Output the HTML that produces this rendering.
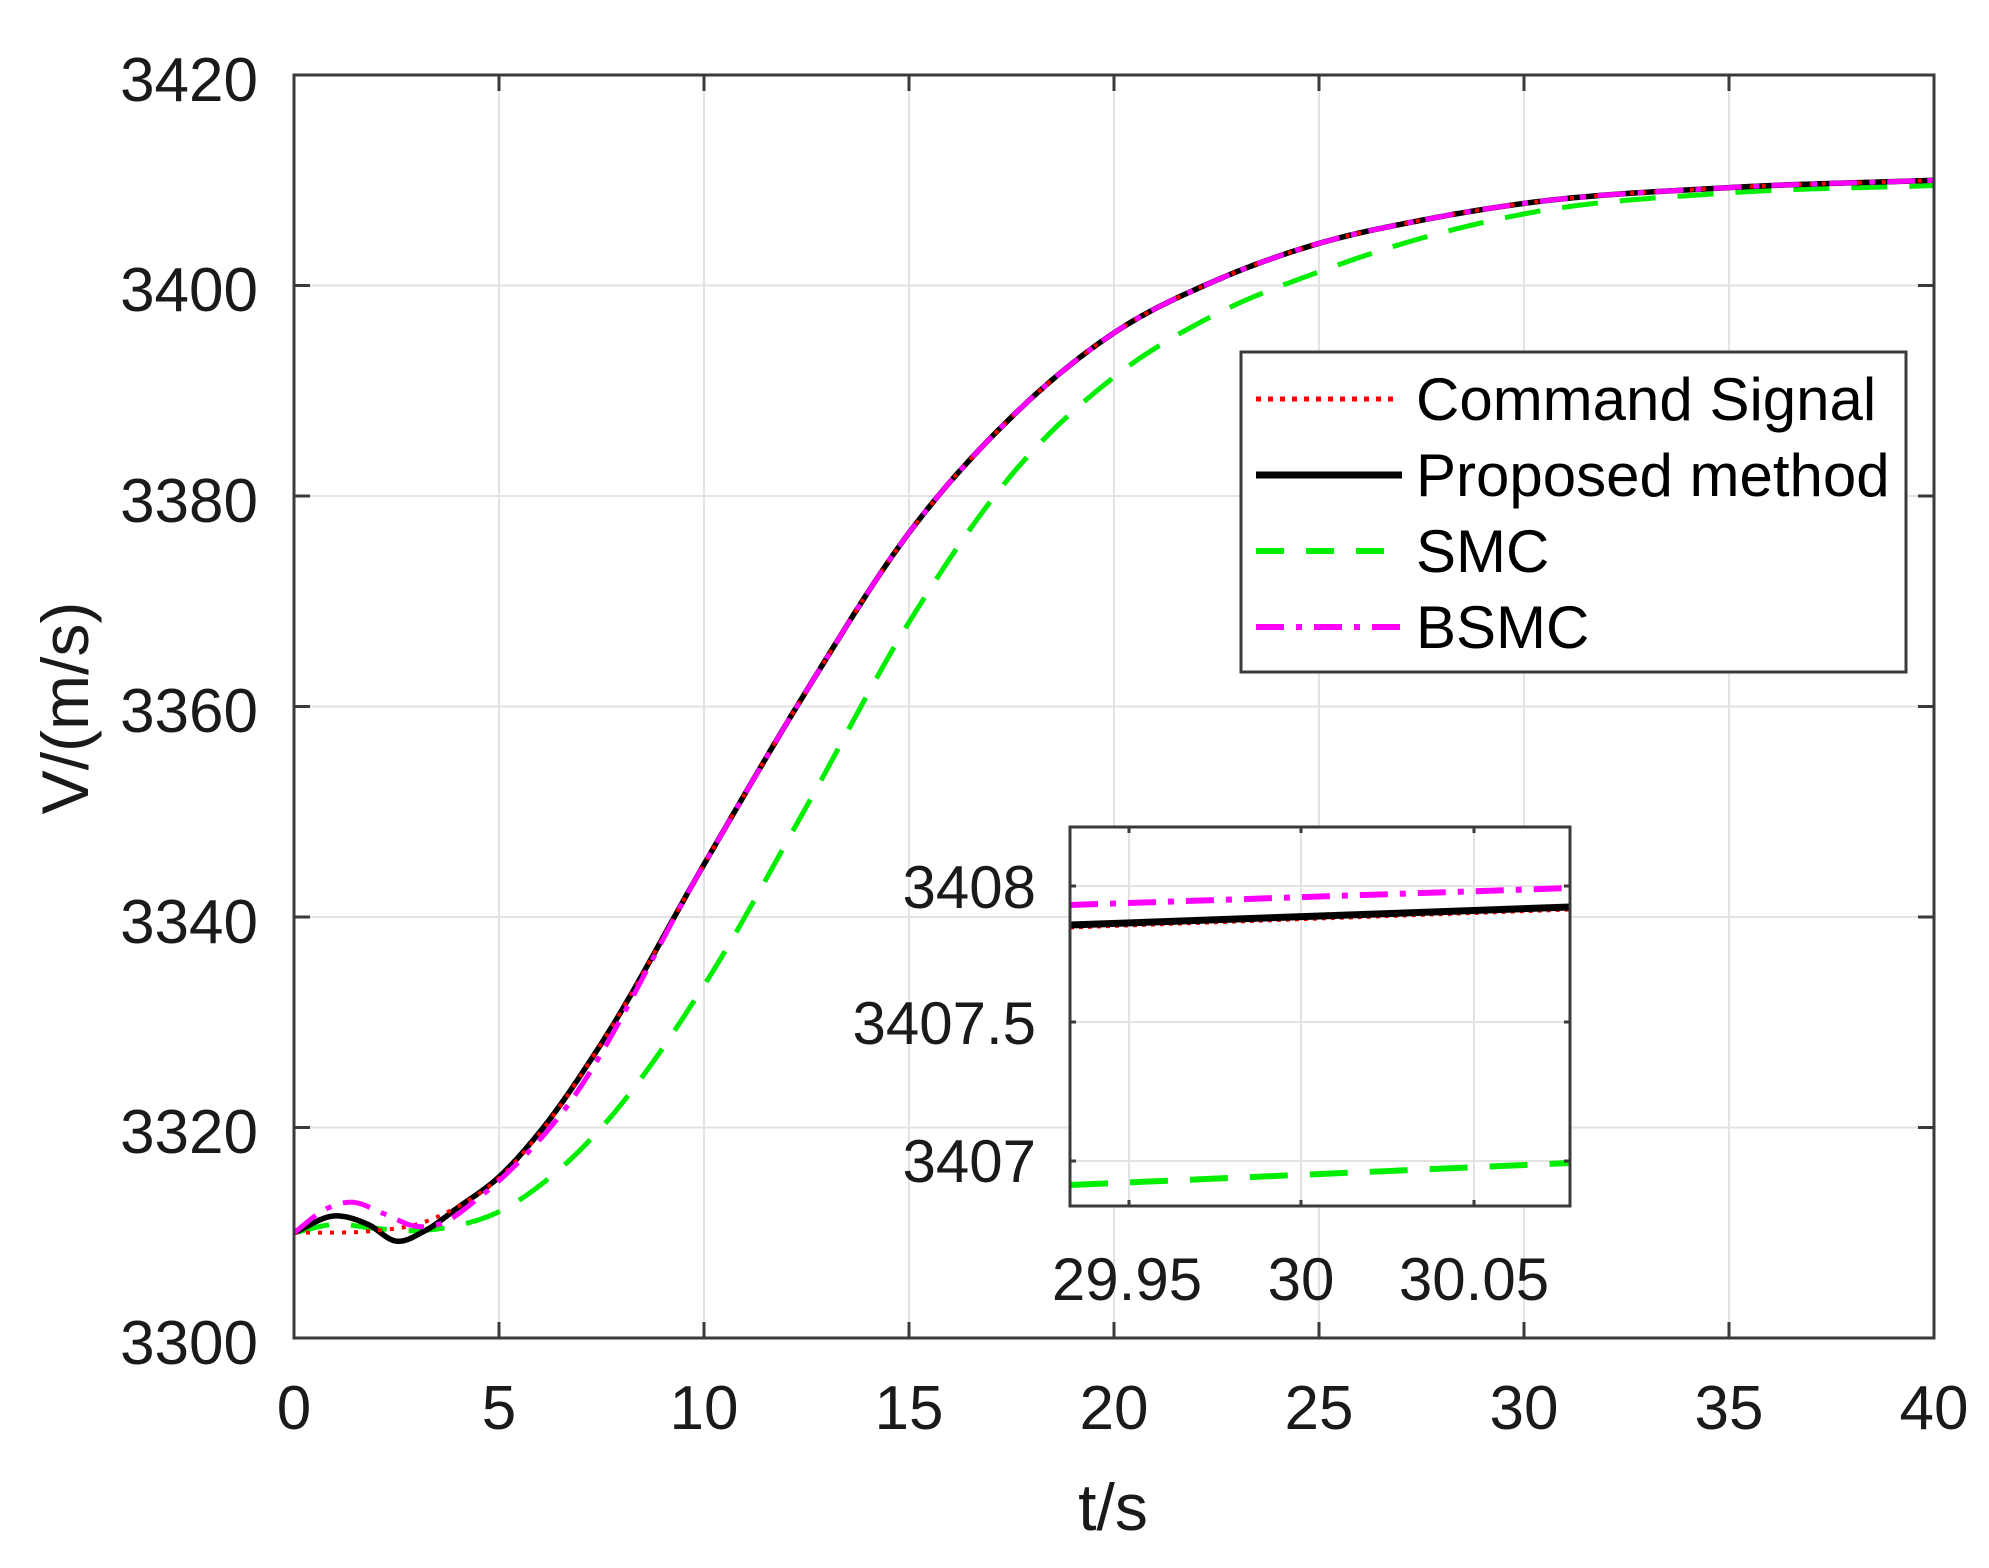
<!DOCTYPE html>
<html><head><meta charset="utf-8"><style>
html,body{margin:0;padding:0;background:#fff;}
svg{display:block;}
text{font-family:"Liberation Sans",Arial,sans-serif;fill:#1a1a1a;}
</style></head><body>
<svg id="s" width="1989" height="1568" viewBox="0 0 1989 1568" xmlns="http://www.w3.org/2000/svg">
<defs>
<clipPath id="cm"><rect x="294" y="75" width="1640" height="1263"/></clipPath>
<clipPath id="ci"><rect x="1070" y="827" width="500" height="379"/></clipPath>
</defs>
<rect width="1989" height="1568" fill="#fff"/>
<g id="grid" stroke="#e3e3e3" stroke-width="2"></g>
<g id="main" clip-path="url(#cm)" fill="none"></g>
<rect x="294" y="75" width="1640" height="1263" fill="none" stroke="#3a3a3a" stroke-width="3"/>
<g id="ticks" stroke="#3a3a3a" stroke-width="3"></g>
<g font-size="62" text-anchor="end">
<text x="258" y="101">3420</text>
<text x="258" y="311">3400</text>
<text x="258" y="522">3380</text>
<text x="258" y="732">3360</text>
<text x="258" y="943">3340</text>
<text x="258" y="1153">3320</text>
<text x="258" y="1364">3300</text>
</g>
<g font-size="62" text-anchor="middle">
<text x="294" y="1429">0</text>
<text x="499" y="1429">5</text>
<text x="704" y="1429">10</text>
<text x="909" y="1429">15</text>
<text x="1114" y="1429">20</text>
<text x="1319" y="1429">25</text>
<text x="1524" y="1429">30</text>
<text x="1729" y="1429">35</text>
<text x="1934" y="1429">40</text>
</g>
<text x="1113" y="1530" font-size="66" text-anchor="middle">t/s</text>
<text transform="translate(88,708) rotate(-90)" font-size="66" text-anchor="middle">V/(m/s)</text>
<!-- legend -->
<rect x="1241" y="352" width="665" height="320" fill="#fff" stroke="#3a3a3a" stroke-width="3"/>
<line x1="1256" y1="399" x2="1399" y2="399" stroke="#ff0000" stroke-width="5" stroke-dasharray="5,7"/>
<line x1="1256" y1="475" x2="1402" y2="475" stroke="#000" stroke-width="7"/>
<line x1="1256" y1="551" x2="1402" y2="551" stroke="#00ee00" stroke-width="6" stroke-dasharray="28,22"/>
<line x1="1256" y1="627" x2="1402" y2="627" stroke="#ff00ff" stroke-width="6" stroke-dasharray="28,12,6,12"/>
<g font-size="60">
<text x="1416" y="420" style="fill:#000">Command Signal</text>
<text x="1416" y="496" style="fill:#000">Proposed method</text>
<text x="1416" y="572" style="fill:#000">SMC</text>
<text x="1416" y="648" style="fill:#000">BSMC</text>
</g>
<!-- inset -->
<rect x="1070" y="827" width="500" height="379" fill="#fff"/>
<g stroke="#e3e3e3" stroke-width="2">
<line x1="1129" y1="827" x2="1129" y2="1206"/><line x1="1301" y1="827" x2="1301" y2="1206"/><line x1="1474" y1="827" x2="1474" y2="1206"/>
<line x1="1070" y1="886" x2="1570" y2="886"/><line x1="1070" y1="1022" x2="1570" y2="1022"/><line x1="1070" y1="1161" x2="1570" y2="1161"/>
</g>
<g clip-path="url(#ci)" fill="none">
<line x1="1070" y1="905" x2="1570" y2="888" stroke="#ff00ff" stroke-width="6" stroke-dasharray="28,12,6,12"/>
<line x1="1070" y1="928" x2="1570" y2="910" stroke="#ff0000" stroke-width="3" stroke-dasharray="4,5"/>
<line x1="1070" y1="925" x2="1570" y2="907" stroke="#000" stroke-width="7"/>
<line x1="1070" y1="1185" x2="1570" y2="1163" stroke="#00ee00" stroke-width="6" stroke-dasharray="38,22"/>
</g>
<rect x="1070" y="827" width="500" height="379" fill="none" stroke="#3a3a3a" stroke-width="3"/>
<g stroke="#3a3a3a" stroke-width="3">
<line x1="1129" y1="827" x2="1129" y2="833"/><line x1="1301" y1="827" x2="1301" y2="833"/><line x1="1474" y1="827" x2="1474" y2="833"/>
<line x1="1129" y1="1206" x2="1129" y2="1200"/><line x1="1301" y1="1206" x2="1301" y2="1200"/><line x1="1474" y1="1206" x2="1474" y2="1200"/>
<line x1="1070" y1="886" x2="1076" y2="886"/><line x1="1070" y1="1022" x2="1076" y2="1022"/><line x1="1070" y1="1161" x2="1076" y2="1161"/>
<line x1="1570" y1="886" x2="1564" y2="886"/><line x1="1570" y1="1022" x2="1564" y2="1022"/><line x1="1570" y1="1161" x2="1564" y2="1161"/>
</g>
<g font-size="60" text-anchor="end">
<text x="1036" y="908">3408</text>
<text x="1036" y="1044">3407.5</text>
<text x="1036" y="1182">3407</text>
</g>
<g font-size="60" text-anchor="middle">
<text x="1127" y="1300">29.95</text>
<text x="1301" y="1300">30</text>
<text x="1474" y="1300">30.05</text>
</g>
</svg>
<script>
(function(){
var NS="http://www.w3.org/2000/svg";
function X(t){return 294+t*41.0;}
function Y(v){return 1338-(v-3300)*10.525;}
function el(p,tag,a){var e=document.createElementNS(NS,tag);for(var k in a)e.setAttribute(k,a[k]);p.appendChild(e);return e;}
var g=document.getElementById('grid'),tk=document.getElementById('ticks');
for(var i=1;i<8;i++){var x=X(i*5);el(g,'line',{x1:x,y1:75,x2:x,y2:1338});}
for(var j=1;j<6;j++){var y=Y(3300+j*20);el(g,'line',{x1:294,y1:y,x2:1934,y2:y});}
for(var i=0;i<=8;i++){var x=X(i*5);el(tk,'line',{x1:x,y1:1338,x2:x,y2:1322});el(tk,'line',{x1:x,y1:75,x2:x,y2:91});}
for(var j=0;j<=6;j++){var y=Y(3300+j*20);el(tk,'line',{x1:294,y1:y,x2:310,y2:y});el(tk,'line',{x1:1934,y1:y,x2:1918,y2:y});}
function herm(pts){
  var n=pts.length,m=[];
  for(var i=0;i<n;i++){
    if(i==0)m.push((pts[1][1]-pts[0][1])/(pts[1][0]-pts[0][0]));
    else if(i==n-1)m.push((pts[n-1][1]-pts[n-2][1])/(pts[n-1][0]-pts[n-2][0]));
    else{var h0=pts[i][0]-pts[i-1][0],h1=pts[i+1][0]-pts[i][0];
      var d0=(pts[i][1]-pts[i-1][1])/h0,d1=(pts[i+1][1]-pts[i][1])/h1;
      m.push((d0*h1+d1*h0)/(h0+h1));}
  }
  var out=[];
  for(var i=0;i<n-1;i++){var h=pts[i+1][0]-pts[i][0];
    for(var s=0;s<30;s++){var u=s/30,u2=u*u,u3=u2*u;
      var y=(2*u3-3*u2+1)*pts[i][1]+(u3-2*u2+u)*h*m[i]+(-2*u3+3*u2)*pts[i+1][1]+(u3-u2)*h*m[i+1];
      out.push([pts[i][0]+u*h,y]);}}
  out.push(pts[n-1]);return out;}
var cmdF=[[0,0],[2,0.002],[3,0.008],[4,0.025],[5,0.052],[6,0.095],[7.5,0.18],[10,0.35],[12.5,0.515],[15,0.665],[17.5,0.775],[20,0.855],[22.5,0.905],[25,0.94],[27.5,0.962],[30,0.978],[35,0.993],[40,1.0]];
var cmd=cmdF.map(function(p){return [p[0],3310+100*p[1]];});
var blk=[[0,3310],[1,3311.6],[1.8,3310.8],[2.5,3309.2],[3.2,3310.2],[4,3312.4],[5,3315.3],[6,3319.6]].concat(cmd.slice(6));
var mag=[[0,3310],[0.8,3312.3],[1.4,3312.9],[2.2,3311.8],[3,3310.6],[3.6,3310.9],[4.5,3313.3],[5.5,3316.8],[6.5,3321.2]].concat(cmd.slice(7));
var grn=[[0,3310],[1,3310.8],[2,3310.4],[3,3310.2],[4,3310.7],[5,3312],[6,3314.5],[7.5,3320],[10,3333.5],[12.5,3350.5],[15,3368],[17.5,3382],[20,3391.3],[22.5,3397.3],[25,3401.3],[27.5,3404.5],[30,3406.8],[35,3408.8],[40,3409.5]];
function path(pts){return herm(pts).map(function(p,i){return (i?'L':'M')+X(p[0]).toFixed(1)+' '+Y(p[1]).toFixed(1);}).join('');}
var m=document.getElementById('main');
el(m,'path',{d:path(grn),stroke:'#00ee00','stroke-width':5,'stroke-dasharray':'36,22'});
el(m,'path',{d:path(blk),stroke:'#000','stroke-width':5.5});
el(m,'path',{d:path(cmd),stroke:'#ff0000','stroke-width':4,'stroke-dasharray':'4,8'});
el(m,'path',{d:path(mag),stroke:'#ff00ff','stroke-width':5,'stroke-dasharray':'28,12,6,12'});
})();
</script>
</body></html>
